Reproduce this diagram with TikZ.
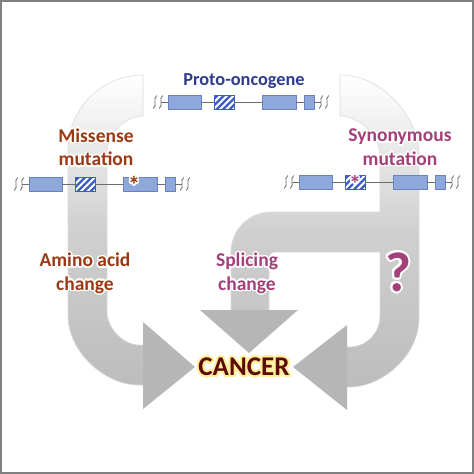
\documentclass[tikz,border=0pt]{standalone}
\usepackage{fontspec}
\setmainfont{Carlito}
\usepackage{contour}
\contourlength{1.4pt}
\contournumber{24}
\definecolor{protoblue}{HTML}{2E3B8F}
\definecolor{missbrown}{HTML}{9A3A14}
\definecolor{synpink}{HTML}{A3407A}
\definecolor{cancerred}{HTML}{5C0A0A}
\definecolor{exonfill}{HTML}{8FA8DC}
\definecolor{exonedge}{HTML}{6A82C2}
\definecolor{hatchblue}{HTML}{3F5FC0}
\definecolor{glowyellow}{HTML}{FFEF9A}
\newcommand\genemodel[3]{%
  \node[exon,minimum width=33pt] (#1e1) at (#2+16.5,#3) {};
  \node[hatchexon,minimum width=20pt] (#1e2) at (#2+56,#3) {};
  \node[exon,minimum width=34pt] (#1e3) at (#2+111,#3) {};
  \node[exon,minimum width=10pt] (#1e4) at (#2+141,#3) {};
  \coordinate (#1L) at (#2-7,#3);
  \coordinate (#1R) at (#2+153,#3);
  \draw[intron] (#1L) -- (#1e1.west);
  \draw[intron] (#1e1.east) -- (#1e2.west);
  \draw[intron] (#1e2.east) -- (#1e3.west);
  \draw[intron] (#1e3.east) -- (#1e4.west);
  \draw[intron] (#1e4.east) -- (#1R);
  \foreach \sx in {#2-13,#2-7,#2+153,#2+159}{%
    \draw[intron,line width=0.8pt] (\sx+1.8,#3-6.5) .. controls (\sx-3,#3-3) and (\sx+3,#3+3) .. (\sx-1.8,#3+6.5);}%
}
\begin{document}
\begin{tikzpicture}[x=1pt,y=-1pt,
  band/.style={draw=gray!28, line width=0.6pt, top color=white, bottom color=gray!52, middle color=gray!37},
  headfill/.style={fill=gray!57, draw=none},
  exon/.style={rectangle, draw=exonedge, fill=exonfill, line width=0.7pt, minimum height=14pt, inner sep=0pt},
  hatchexon/.style={exon, fill=white, draw=hatchblue, path picture={%
    \foreach \k in {-3,...,3}{\draw[hatchblue, line width=2.2pt] ([xshift=\k*6.5pt-12pt, yshift=-12pt]path picture bounding box.center) -- ++(24pt,24pt);}}},
  intron/.style={draw=gray!85!black, line width=0.7pt},
  lbl/.style={font=\bfseries\fontsize{19.5}{23.5}\selectfont, align=center, inner sep=0pt},
]
\useasboundingbox (0,0) rectangle (474,474);
\fill[white] (0,0) rectangle (474,474);

% left U band
\path[band] (143,75) .. controls (101.6,75) and (68,108.6) .. (68,150)
  -- (68,315) .. controls (68,353.6) and (106.4,385) .. (138,385)
  -- (144,385) -- (144,345) -- (140,345)
  .. controls (121.8,345) and (107,326.8) .. (107,312)
  -- (107,152) .. controls (107,132.1) and (126.8,116) .. (143,116) -- cycle;
\path[headfill] (143,322) -- (195,367) -- (143,409) -- cycle;

% right U band with splicing branch
\path[band] (340,75) .. controls (383.6,75) and (419,118.6) .. (419,154)
  -- (419,318) .. controls (419,356.9) and (380.9,387) .. (350,387)
  -- (346,387) -- (346,347) -- (349,347)
  .. controls (366.1,347) and (380,333.1) .. (380,316)
  -- (380,252) -- (275,252) .. controls (271.7,252) and (269,254.7) .. (269,258)
  -- (269,311) -- (231,311) -- (231,252)
  .. controls (231,229.9) and (248.9,212) .. (271,212)
  -- (380,212) -- (380,156) .. controls (380,133.9) and (357.9,116) .. (340,116) -- cycle;
\path[headfill] (347,325) -- (293,367) -- (347,410) -- cycle;
\path[headfill] (200,310) -- (298,310) -- (249,353) -- cycle;

% genes
\genemodel{t}{168}{102}
\genemodel{l}{29}{184}
\genemodel{r}{299}{182}

\node[font=\bfseries\fontsize{24}{24}\selectfont, text=missbrown, inner sep=0pt] (astl) at (134,186) {\contour{white}{*}};
\node[font=\bfseries\fontsize{24}{24}\selectfont, text=synpink, inner sep=0pt] (astr) at (355,185) {\contour{white}{*}};

% labels
\node[lbl, font=\bfseries\fontsize{18.3}{21}\selectfont, text=protoblue] (proto) at (244,81) {Proto-oncogene};
\node[lbl, text=missbrown] (miss) at (96,148) {\contour{white}{Missense}\\\contour{white}{mutation}};
\node[lbl, text=synpink] (syn) at (400,148) {\contour{white}{Synonymous}\\\contour{white}{mutation}};
\node[lbl, text=missbrown] (amino) at (85,274) {\contour{white}{Amino acid}\\\contour{white}{change}};
\node[lbl, text=synpink] (splice) at (247,274) {\contour{white}{Splicing}\\\contour{white}{change}};
\node[lbl, font=\bfseries\fontsize{56}{56}\selectfont, text=synpink] (qm) at (398,273) {\contourlength{2pt}\contour{white}{?}};
\node[lbl, font=\bfseries\fontsize{27}{27}\selectfont, text=cancerred] (cancer) at (244,368) {\contourlength{2pt}\contour{glowyellow}{CANCER}};

% frame
\draw[gray, line width=2pt] (1,1) rectangle (473,473);
\end{tikzpicture}
\end{document}
